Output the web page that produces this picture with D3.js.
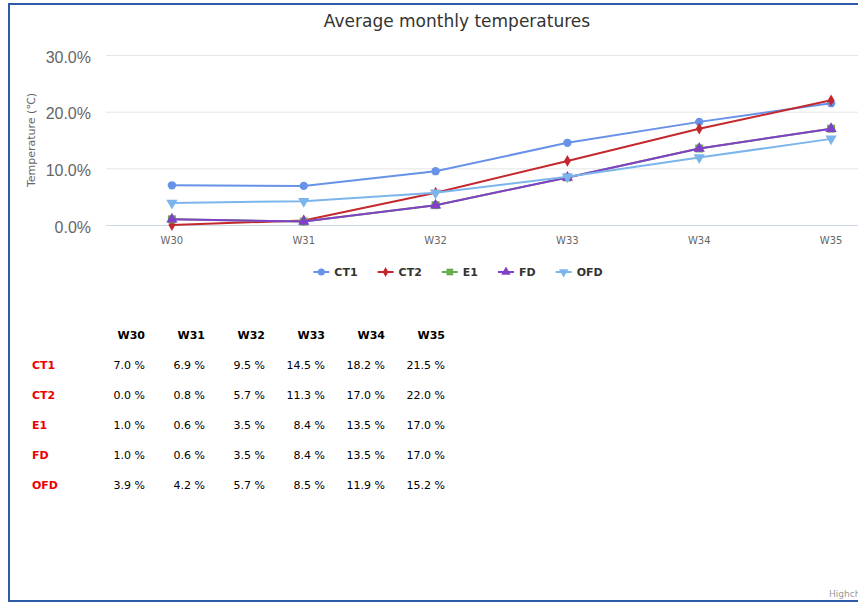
<!DOCTYPE html>
<html>
<head>
<meta charset="utf-8">
<script src="https://cdn.jsdelivr.net/npm/d3@7"></script>
<style>
  body { margin: 0; background: #fff; }
  svg { display: block; }
</style>
</head>
<body>
<svg id="viz"></svg>
<script>
const weeks = ["W30", "W31", "W32", "W33", "W34", "W35"];
const seriesNames = ["CT1", "CT2", "E1", "FD", "OFD"];
const ct1 = [7.0, 6.9, 9.5, 14.5, 18.2, 21.5];
const ct2 = [0.0, 0.8, 5.7, 11.3, 17.0, 22.0];
const e1 = [1.0, 0.6, 3.5, 8.4, 13.5, 17.0];
const fd = [1.0, 0.6, 3.5, 8.4, 13.5, 17.0];
const ofd = [3.9, 4.2, 5.7, 8.5, 11.9, 15.2];
const yTicks = [0, 10, 20, 30];

const series = [
  { name: "CT1", values: ct1, color: "#6792e8", symbol: d3.symbolCircle },
  { name: "CT2", values: ct2, color: "#c4282d", symbol: d3.symbolDiamond },
  { name: "E1", values: e1, color: "#6aad4e", symbol: d3.symbolSquare },
  { name: "FD", values: fd, color: "#8040c8", symbol: d3.symbolTriangle },
  { name: "OFD", values: ofd, color: "#7cb5ec", symbol: "down" }
];

const W = 858, H = 605;
const svg = d3.select("#viz").attr("width", W).attr("height", H);

// outer frame (runs past the right edge like the original)
svg.append("rect")
  .attr("x", 9).attr("y", 4)
  .attr("width", 920).attr("height", 597)
  .attr("fill", "#fff")
  .attr("stroke", "#2f5aa8").attr("stroke-width", 2);

const plot = { left: 106, right: 897, top: 55, bottom: 225 };

const x = d3.scaleBand().domain(weeks).range([plot.left, plot.right]);
const y = d3.scaleLinear().domain([0, 30]).range([plot.bottom, plot.top]);

// title
svg.append("text")
  .attr("x", 457).attr("y", 27)
  .attr("text-anchor", "middle")
  .attr("font-family", "DejaVu Sans")
  .attr("font-size", 17)
  .attr("fill", "#333")
  .text("Average monthly temperatures");

// grid
svg.append("g").selectAll("line")
  .data(yTicks.filter(d => d > 0))
  .join("line")
  .attr("x1", plot.left).attr("x2", plot.right)
  .attr("y1", d => y(d) + 0.5).attr("y2", d => y(d) + 0.5)
  .attr("stroke", "#e6e6e6");

// y axis labels
const yAxis = d3.axisLeft(y).tickValues(yTicks).tickSize(0).tickPadding(0)
  .tickFormat(d => d.toFixed(1) + "%");
const gy = svg.append("g").attr("transform", `translate(${plot.left - 15},2)`).call(yAxis);
gy.select(".domain").remove();
gy.selectAll("text")
  .attr("font-family", "Liberation Sans")
  .attr("font-size", 16)
  .attr("fill", "#666");

svg.append("text")
  .attr("transform", `translate(35,${(plot.top + plot.bottom) / 2}) rotate(-90)`)
  .attr("text-anchor", "middle")
  .attr("font-family", "DejaVu Sans")
  .attr("font-size", 11)
  .attr("fill", "#666")
  .text("Temperature (\u2103)");

// x axis
const xAxis = d3.axisBottom(x).tickSize(0).tickPadding(11);
const gx = svg.append("g").attr("transform", `translate(0,${plot.bottom + 0.5})`).call(xAxis);
gx.select(".domain").attr("stroke", "#ccd6eb").attr("d", `M${plot.left},0H${plot.right}`);
gx.selectAll("text")
  .attr("font-family", "DejaVu Sans")
  .attr("font-size", 10)
  .attr("fill", "#666");

function markerPath(sym, size) {
  if (sym === "down") {
    return d3.symbol(d3.symbolTriangle, size)();
  }
  return d3.symbol(sym, size)();
}
function markerSize(s) {
  if (s.symbol === d3.symbolCircle) return 55;
  if (s.symbol === d3.symbolDiamond) return 40;
  if (s.symbol === d3.symbolSquare) return 64;
  return 55;
}

const line = d3.line()
  .x((d, i) => x(weeks[i]) + x.bandwidth() / 2)
  .y(d => y(d));

series.forEach(s => {
  const g = svg.append("g");
  g.append("path")
    .attr("d", line(s.values))
    .attr("fill", "none")
    .attr("stroke", s.color)
    .attr("stroke-width", 2);
  g.selectAll("path.m")
    .data(s.values)
    .join("path")
    .attr("class", "m")
    .attr("d", markerPath(s.symbol, markerSize(s)))
    .attr("transform", (d, i) => `translate(${x(weeks[i]) + x.bandwidth() / 2},${y(d)})` + (s.symbol === "down" ? " rotate(180)" : ""))
    .attr("fill", s.color);
});

// legend
const legend = svg.append("g");
let lx = 0;
const items = [];
series.forEach(s => {
  const g = legend.append("g");
  g.append("line")
    .attr("x1", 0).attr("x2", 16).attr("y1", 0).attr("y2", 0)
    .attr("stroke", s.color).attr("stroke-width", 2);
  g.append("path")
    .attr("d", markerPath(s.symbol, markerSize(s) * 0.7))
    .attr("transform", "translate(8,0)" + (s.symbol === "down" ? " rotate(180)" : ""))
    .attr("fill", s.color);
  const t = g.append("text")
    .attr("x", 21).attr("y", 4)
    .attr("font-family", "DejaVu Sans")
    .attr("font-weight", "bold")
    .attr("font-size", 11)
    .attr("fill", "#333")
    .text(s.name);
  items.push({ g, w: 21 + t.node().getComputedTextLength() });
});
items.forEach(it => {
  it.g.attr("transform", `translate(${lx},0)`);
  lx += it.w + 20;
});
lx -= 20;
legend.attr("transform", `translate(${458 - lx / 2},272)`);

// data table
const colRight = d3.scalePoint().domain(weeks).range([145, 445]);
const rowY = d3.scalePoint().domain(seriesNames).range([369, 489]);
const table = svg.append("g")
  .attr("font-family", "DejaVu Sans")
  .attr("font-size", 11);

table.selectAll("text.h")
  .data(weeks)
  .join("text")
  .attr("class", "h")
  .attr("x", d => colRight(d))
  .attr("y", 339)
  .attr("text-anchor", "end")
  .attr("font-weight", "bold")
  .attr("fill", "#000")
  .text(d => d);

series.forEach(s => {
  table.append("text")
    .attr("x", 32).attr("y", rowY(s.name))
    .attr("font-weight", "bold")
    .attr("fill", "#ee0000")
    .text(s.name);
  table.selectAll(null)
    .data(s.values)
    .join("text")
    .attr("x", (d, i) => colRight(weeks[i]))
    .attr("y", rowY(s.name))
    .attr("text-anchor", "end")
    .attr("fill", "#000")
    .text(d => d.toFixed(1) + " %");
});

// credits (clipped by the window edge, as in the original)
svg.append("text")
  .attr("x", 829).attr("y", 597)
  .attr("font-family", "DejaVu Sans")
  .attr("font-size", 9)
  .attr("fill", "#999")
  .text("Highcharts.com");
</script>
</body>
</html>
